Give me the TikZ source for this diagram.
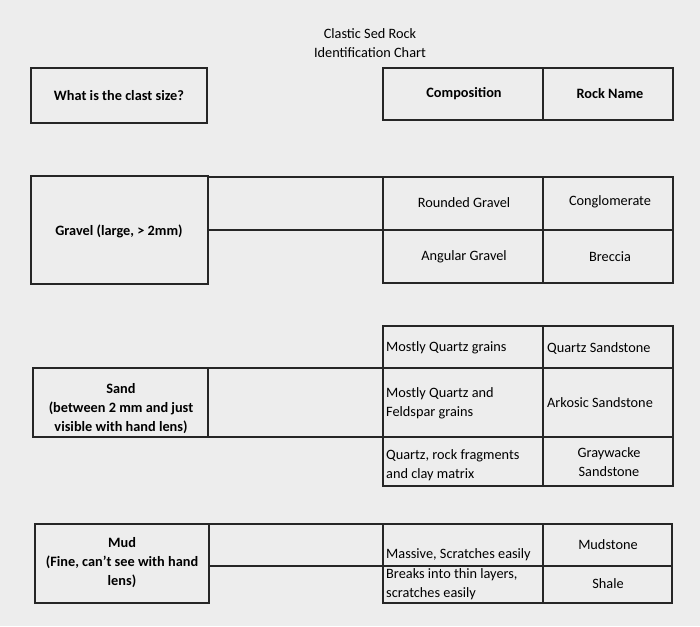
\documentclass[tikz,border=0pt]{standalone}
\usepackage{fontspec}
\setmainfont{Carlito}
\begin{document}
\begin{tikzpicture}[x=1pt,y=-1pt,
  fs/.style={font=\fontsize{14.3}{19}\selectfont},
  fb/.style={font=\fontsize{14.3}{19}\selectfont\bfseries},
  lbl/.style={fs,align=center,inner sep=0pt},
  blbl/.style={fb,align=center,inner sep=0pt},
  lft/.style={fs,align=left,inner sep=0pt,anchor=west},
  conn/.style={draw=black!85,line width=1.1pt}]
\fill[black!7] (0,0) rectangle (700,626);
\useasboundingbox (0,0) rectangle (700,626);
\node[lbl] (title) at (370,43) {Clastic Sed Rock\\Identification Chart};
% header
\draw[conn] (31,68) rectangle (207,123);
\node[blbl] (q) at (119,96) {What is the clast size?};
\draw[conn] (383,68) rectangle (673,120) (543,68) -- (543,120);
\node[blbl] (comp) at (464,94) {Composition};
\node[blbl] (rn) at (610,94) {Rock Name};
% gravel
\draw[conn] (31,176) rectangle (208,284);
\node[blbl] (gravel) at (119,231) {Gravel (large, > 2mm)};
\draw[conn] (383,177) rectangle (673,283) (543,177) -- (543,283) (383,230) -- (673,230);
\draw[conn] (208,177) -- (383,177) (208,230) -- (383,230);
\node[lbl] (rg) at (464,203) {Rounded Gravel};
\node[lbl] (ag) at (464,257) {Angular Gravel};
\node[lbl] (cg) at (610,202) {Conglomerate};
\node[lbl] (br) at (610,257) {Breccia};
% sand
\draw[conn] (33,368) rectangle (208,437);
\node[blbl] (sand) at (121,409) {Sand\\(between 2 mm and just\\visible with hand lens)};
\draw[conn] (383,326) rectangle (673,486) (543,326) -- (543,486) (383,368) -- (673,368) (383,437) -- (673,437);
\draw[conn] (208,368) -- (383,368) (208,437) -- (383,437);
\node[lft] (mq) at (386,348) {Mostly Quartz grains};
\node[lft] (mqf) at (386,403) {Mostly Quartz and\\Feldspar grains};
\node[lft] (qr) at (386,465) {Quartz, rock fragments\\and clay matrix};
\node[lft] (qs) at (547,348) {Quartz Sandstone};
\node[lft] (as) at (547,403) {Arkosic Sandstone};
\node[lbl] (gw) at (609,462) {Graywacke\\Sandstone};
% mud
\draw[conn] (35,524) rectangle (209,603);
\node[blbl] (mud) at (122,563) {Mud\\(Fine, can't see with hand\\lens)};
\draw[conn] (383,524) rectangle (672,603) (543,524) -- (543,603) (383,566) -- (672,566);
\draw[conn] (209,524) -- (383,524) (209,566) -- (383,566);
\node[lft] (ms) at (386,555) {Massive, Scratches easily};
\node[lft] (bt) at (386,584) {Breaks into thin layers,\\scratches easily};
\node[lbl] (md) at (608,545) {Mudstone};
\node[lbl] (sh) at (608,584) {Shale};
\end{tikzpicture}
\end{document}
